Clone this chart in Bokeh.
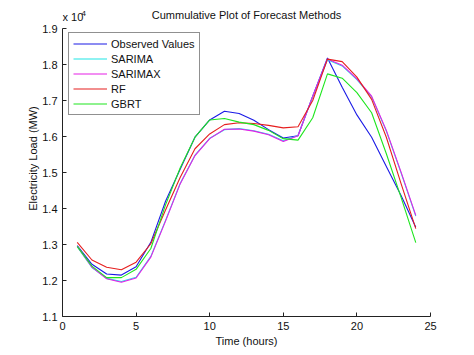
from bokeh.plotting import figure
from bokeh.models import Range1d, FixedTicker, PrintfTickFormatter, Label, Legend, LegendItem
from bokeh.embed import file_html
from bokeh.resources import INLINE

# Data (electricity load in units of 10^4 MW)
hours = list(range(1, 25))
observed = [1.297, 1.245, 1.218, 1.215, 1.238, 1.306, 1.420, 1.510, 1.598, 1.646, 1.670, 1.664,
            1.645, 1.619, 1.596, 1.602, 1.712, 1.818, 1.737, 1.660, 1.598, 1.517, 1.436, 1.348]
sarima = [1.294, 1.236, 1.206, 1.197, 1.209, 1.267, 1.367, 1.470, 1.548, 1.595, 1.619, 1.622,
          1.616, 1.606, 1.588, 1.603, 1.711, 1.813, 1.796, 1.758, 1.710, 1.615, 1.499, 1.379]
sarimax = [1.295, 1.237, 1.205, 1.195, 1.207, 1.265, 1.365, 1.469, 1.547, 1.594, 1.620, 1.621,
           1.615, 1.605, 1.586, 1.602, 1.712, 1.815, 1.798, 1.760, 1.712, 1.617, 1.501, 1.381]
rf = [1.306, 1.257, 1.237, 1.230, 1.251, 1.302, 1.396, 1.487, 1.566, 1.607, 1.633, 1.638,
      1.636, 1.631, 1.624, 1.627, 1.700, 1.815, 1.808, 1.765, 1.703, 1.598, 1.469, 1.344]
gbrt = [1.295, 1.240, 1.208, 1.208, 1.231, 1.289, 1.410, 1.513, 1.598, 1.646, 1.650, 1.640,
        1.633, 1.617, 1.594, 1.590, 1.652, 1.774, 1.762, 1.722, 1.666, 1.552, 1.431, 1.305]

series_names = ["Observed Values", "SARIMA", "SARIMAX", "RF", "GBRT"]
series_values = [observed, sarima, sarimax, rf, gbrt]
series_colors = ["#1a1ae6", "#1ee6e6", "#e61ee6", "#e61e1e", "#1ee61e"]

x_ticks = [0, 5, 10, 15, 20, 25]
y_ticks = [1.1, 1.2, 1.3, 1.4, 1.5, 1.6, 1.7, 1.8, 1.9]
title_text = "Cummulative Plot of Forecast Methods"

FONT = "Liberation Sans"
Y0, Y1 = 1.1, 1.9
PX_PER_UNIT = 360.0          # vertical scale of the axes box
TOP_PAD = 28 / PX_PER_UNIT    # room above the axes box for title and exponent

p = figure(width=474, height=355, output_backend="svg", toolbar_location=None,
           x_range=Range1d(0, 25), y_range=Range1d(Y0, Y1 + TOP_PAD),
           min_border_left=62, min_border_right=44, min_border_top=0, min_border_bottom=39)
p.outline_line_color = None
p.background_fill_color = "white"
p.border_fill_color = "white"
p.xgrid.visible = False
p.ygrid.visible = False

for ax in (p.xaxis[0], p.yaxis[0]):
    ax.axis_line_color = "#222222"
    ax.major_tick_line_color = "#222222"
    ax.major_tick_in = 4
    ax.major_tick_out = 0
    ax.minor_tick_line_color = None
    ax.major_label_text_font = FONT
    ax.major_label_text_font_size = "11px"
    ax.major_label_text_color = "#111111"
    ax.axis_label_text_font = FONT
    ax.axis_label_text_font_size = "11px"
    ax.axis_label_text_font_style = "normal"
    ax.axis_label_text_color = "#111111"

p.yaxis.bounds = (Y0, Y1)
p.xaxis.ticker = FixedTicker(ticks=x_ticks)
p.yaxis.ticker = FixedTicker(ticks=y_ticks)
p.yaxis.formatter = PrintfTickFormatter(format="%.1f")
p.xaxis.axis_label = "Time (hours)"
p.yaxis.axis_label = "Electricity Load (MW)"
p.xaxis.major_label_standoff = 5
p.yaxis.major_label_standoff = 5
p.xaxis.axis_label_standoff = 2
p.yaxis.axis_label_standoff = 0

items = []
for name, vals, col in zip(series_names, series_values, series_colors):
    r = p.line(hours, vals, line_color=col, line_width=1.1)
    items.append(LegendItem(label=name, renderers=[r]))

legend = Legend(items=items, location=(6, 201))
legend.padding = 4
legend.spacing = 2
legend.glyph_width = 34
legend.glyph_height = 13
legend.label_height = 13
legend.label_standoff = 4
legend.label_text_font = FONT
legend.label_text_font_size = "11px"
legend.label_text_color = "#111111"
legend.border_line_color = "#222222"
legend.border_line_width = 1
legend.background_fill_color = "white"
legend.background_fill_alpha = 1.0
p.add_layout(legend, "center")

# title
p.add_layout(Label(x=12.5, y=Y1 + 14 / PX_PER_UNIT, text=title_text, text_font=FONT,
                   text_font_size="11px", text_color="#111111",
                   text_baseline="middle", text_align="center"))
# exponent label "x 10^4" above the y axis
p.add_layout(Label(x=0, y=Y1 + 6 / PX_PER_UNIT, text="x 10", text_font=FONT,
                   text_font_size="11px", text_color="#111111",
                   text_baseline="bottom", text_align="left"))
p.add_layout(Label(x=19 / 14.7, y=Y1 + 13 / PX_PER_UNIT, text="4", text_font=FONT,
                   text_font_size="8px", text_color="#111111",
                   text_baseline="bottom", text_align="left"))

open("out.html", "w").write(file_html(p, INLINE))
